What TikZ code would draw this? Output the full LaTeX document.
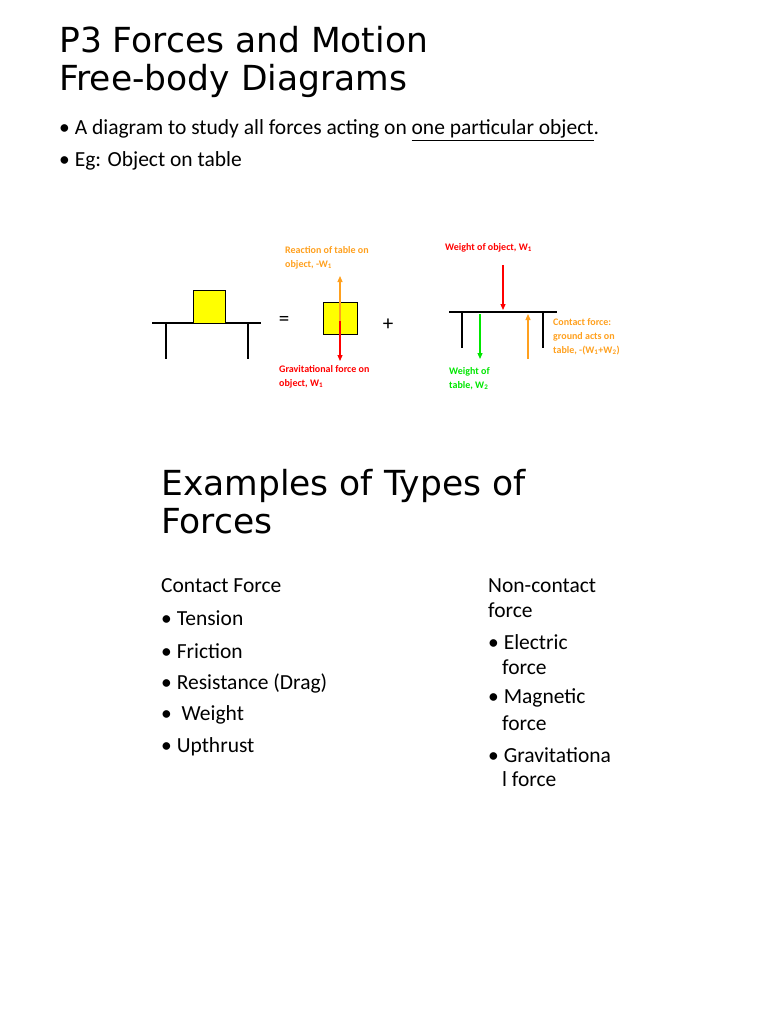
\documentclass[tikz,border=0pt]{standalone}
\usepackage{fontspec}
\setmainfont{Carlito}
\newfontfamily\ttl{DejaVu Sans}
\usetikzlibrary{arrows.meta}
\definecolor{yel}{RGB}{255,255,0}
\definecolor{org}{RGB}{255,160,30}
\definecolor{rd}{RGB}{255,0,0}
\definecolor{gr}{RGB}{0,230,0}
\begin{document}
\begin{tikzpicture}[x=1pt,y=-1pt,
 big/.style={anchor=north west,inner sep=0,align=left,font=\ttl\fontsize{34.5}{38}\selectfont},
 body/.style={anchor=west,inner sep=0,font=\fontsize{21.5}{24}\selectfont},
 lbl/.style={anchor=north west,inner sep=0,align=left,font=\bfseries\fontsize{10}{14}\selectfont},
 tbl/.style={line width=2.2pt},
 box/.style={draw,fill=yel,line width=0.8pt},
 arr/.style={-{Triangle[length=6pt,width=5pt]},line width=1.2pt}]
\useasboundingbox (0,0) rectangle (768,1024);
\node[big] (t) at (59,26) {P3 Forces and Motion\\Free-body Diagrams};
\node[body] (b1) at (59,130) {• A diagram to study all forces acting on \underline{one particular object}.};
\node[body] (b2) at (59,161) {• Eg: Object on table};
% left table
\draw[tbl] (152,323) -- (261,323);
\draw[tbl] (166,323) -- (166,359);
\draw[tbl] (248,323) -- (248,359);
\draw[box] (193,290) rectangle (225,323);
\node[font=\fontsize{21}{23}\selectfont] (eq) at (284,321) {=};
% middle
\draw[box] (323,302) rectangle (357,334);
\coordinate (mc) at (340,321);
\coordinate (mu) at (340,276);
\coordinate (md) at (340,361);
\draw[arr,org] (mc) -- (mu);
\draw[arr,rd] (mc) -- (md);
\node[font=\fontsize{21}{23}\selectfont] (pl) at (388,325) {+};
% right table
\draw[tbl] (449,312) -- (557,312);
\draw[tbl] (462,312) -- (462,348);
\draw[tbl] (543,312) -- (543,348);
\coordinate (r1) at (503,265); \coordinate (r2) at (503,310);
\draw[arr,rd] (r1) -- (r2);
\coordinate (g1) at (480,314); \coordinate (g2) at (480,359);
\draw[arr,gr] (g1) -- (g2);
\coordinate (o1) at (528,359); \coordinate (o2) at (528,314);
\draw[arr,org] (o1) -- (o2);
\node[lbl,text=org] (l1) at (285,246) {Reaction of table on\\object, -W\textsubscript{1}};
\node[lbl,text=rd] (l2) at (445,243) {Weight of object, W\textsubscript{1}};
\node[lbl,text=rd] (l3) at (279,365) {Gravitational force on\\object, W\textsubscript{1}};
\node[lbl,text=gr] (l4) at (449,367) {Weight of\\table, W\textsubscript{2}};
\node[lbl,text=org] (l5) at (553,318) {Contact force:\\ground acts on\\table, -(W\textsubscript{1}+W\textsubscript{2})};
% examples
\node[big] (t2) at (161,469) {Examples of Types of\\Forces};
\node[body] (c0) at (161,586) {Contact Force};
\node[body] (c1) at (161,618) {• Tension};
\node[body] (c2) at (161,651) {• Friction};
\node[body] (c3) at (161,683) {• Resistance (Drag)};
\node[body] (c4) at (161,715) {•\ \ Weight};
\node[body] (c5) at (161,747) {• Upthrust};
\node[body] (n0) at (488,586) {Non-contact};
\node[body] (n0b) at (488,610) {force};
\node[body] (n1) at (488,642) {• Electric};
\node[body] (n1b) at (502,667) {force};
\node[body] (n2) at (488,698) {• Magnetic};
\node[body] (n2b) at (502,723) {force};
\node[body] (n3) at (488,755) {• Gravitationa};
\node[body] (n3b) at (502,779) {l force};
\end{tikzpicture}
\end{document}
